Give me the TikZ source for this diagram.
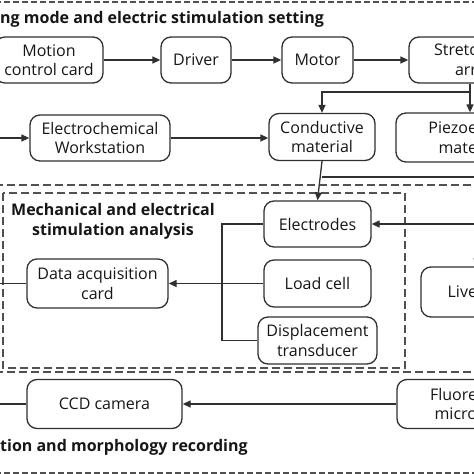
\documentclass[tikz,border=0pt]{standalone}
\usepackage{fontspec}
\setmainfont{Open Sans}
\usetikzlibrary{arrows.meta,calc}
\definecolor{linec}{HTML}{303030}
\definecolor{txtc}{HTML}{161616}
\definecolor{dashc}{HTML}{505050}
\begin{document}
\begin{tikzpicture}[x=1pt,y=-1pt,
 box/.style={draw=linec, line width=1.3pt, rounded corners=10pt, align=center, inner sep=0pt, text=txtc, font=\fontsize{16}{19.5}\selectfont},
 cbox/.style={box, inner xsep=18pt, inner ysep=0pt, align=right},
 arr/.style={draw=linec, line width=1.3pt, -{Triangle[length=8pt,width=7pt]}},
 ln/.style={draw=linec, line width=1.3pt},
 dsh/.style={draw=dashc, line width=1.3pt, dash pattern=on 8pt off 4pt},
 tdsh/.style={draw=dashc, line width=2.6pt, dash pattern=on 6pt off 3pt},
 ttl/.style={font=\bfseries\fontsize{16}{20}\selectfont, text=txtc, inner sep=0pt, align=center}]
\useasboundingbox (0,0) rectangle (474,474);

% dashed frames
\draw[tdsh] (-5,2) -- (480,2);
\draw[tdsh] (-5,473) -- (480,473);
\draw[dsh] (-5,185) -- (480,185);
\draw[dsh] (-5,372) -- (480,372);
\draw[dsh] (3,193) rectangle (405,368);

% titles
\node[ttl, anchor=base west] (t1) at (0,23) {ng mode and electric stimulation setting};
\node[ttl, anchor=base west] (t2) at (0,451) {tion and morphology recording};
\node[ttl] (t3) at (113,221) {Mechanical and electrical\\stimulation analysis};

% boxes
\node[box, minimum width=108pt, minimum height=46pt] (mcc) at (49,60) {Motion\\control card};
\node[box, minimum width=70pt, minimum height=46pt] (driver) at (196,60) {Driver};
\node[box, minimum width=71pt, minimum height=46pt] (motor) at (317.5,60) {Motor};
\node[cbox, text width=50pt, minimum height=46pt] (stretch) at (452,60) {Stretc\\arr};
\node[box, minimum width=140pt, minimum height=46pt] (echem) at (100,138) {Electrochemical\\Workstation};
\node[box, minimum width=106pt, minimum height=47pt] (cond) at (322,137) {Conductive\\material};
\node[cbox, text width=63pt, minimum height=49pt] (piezo) at (445.5,137.5) {Piezoe\\mate};
\node[box, minimum width=107pt, minimum height=46pt] (electrodes) at (317.5,224) {Electrodes};
\node[box, minimum width=107pt, minimum height=47pt] (loadcell) at (317.5,283.5) {Load cell};
\node[box, minimum width=119pt, minimum height=47pt] (disp) at (317.5,340.5) {Displacement\\transducer};
\node[box, minimum width=141pt, minimum height=49pt] (daq) at (97.5,283.5) {Data acquisition\\card};
\node[cbox, text width=38pt, minimum height=50pt] (live) at (458,292) {Live};
\node[box, minimum width=155pt, minimum height=49pt] (ccd) at (104.5,404) {CCD camera};
\node[cbox, text width=62pt, minimum height=49pt] (fluo) at (446,404) {Fluore\\micro};

% connectors
\draw[arr] (mcc) -- (driver);
\draw[arr] (driver) -- (motor);
\draw[arr] (motor) -- (stretch);
\coordinate (s1) at (470,92);
\draw[arr] (stretch.south -| s1) -- (piezo.north -| s1);
\draw[arr] (s1) -| (cond.north);
\coordinate (eL1) at (-2,138);
\draw[arr] (eL1) -- (echem.west);
\draw[arr] (echem.east) -- (echem.east -| cond.west);
\draw[arr] (cond.south) -- (electrodes.north);
\coordinate (rE1) at (476,177);
\draw[ln] (cond.south |- rE1) -- (rE1);
\coordinate (rE2) at (476,224);
\draw[arr] (rE2) -- (electrodes.east);
\coordinate (bus) at (222,250);
\draw[ln] (electrodes.west) -- (electrodes.west -| bus) -- (disp.west -| bus) -- (disp.west);
\draw[ln] (loadcell.west) -- (loadcell.west -| bus);
\draw[arr] (loadcell.west -| bus) -- (daq.east);
\coordinate (eL2) at (-2,283.5);
\draw[ln] (daq.west) -- (eL2);
\coordinate (lv) at (477,245);
\draw[arr] (lv) -- (live.north -| lv);
\draw[arr] (fluo.west) -- (ccd.east);
\coordinate (eL3) at (-2,404);
\draw[ln] (ccd.west) -- (eL3);
\end{tikzpicture}
\end{document}
